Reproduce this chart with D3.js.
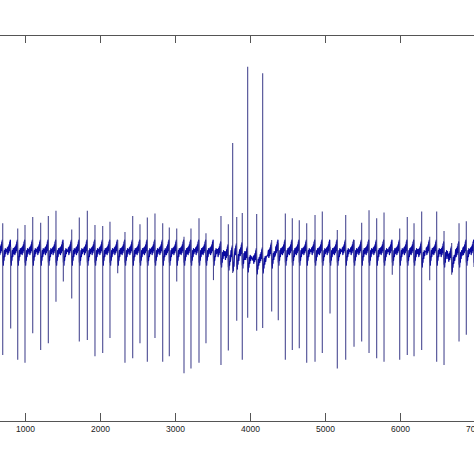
<!DOCTYPE html>
<html>
<head>
<meta charset="utf-8">
<script src="https://cdn.jsdelivr.net/npm/d3@7"></script>
<style>
  html, body { margin: 0; padding: 0; background: #fff; }
  svg { display: block; }
</style>
</head>
<body>
<div id="chart"></div>
<script>
// ---- data ----
// sample index of each sharp spike
const beatSample = [703, 809, 903, 1000, 1103, 1209, 1311, 1413, 1511, 1623,
  1724, 1831, 1933, 2036, 2133, 2236, 2333, 2436, 2533, 2631,
  2733, 2836, 2924, 3023, 3120, 3213, 3320, 3413, 3513, 3613,
  3711, 3769, 3823, 3897, 3969, 4089, 4169, 4289, 4377, 4471,
  4564, 4657, 4756, 4867, 4964, 5067, 5164, 5276, 5387, 5489,
  5587, 5689, 5787, 5897, 5996, 6097, 6187, 6289, 6396, 6489,
  6587, 6689, 6787, 6884, 6987];
// spike top values
const beatHigh = [61, 12, 50, 57, 74, 62, 76, 87, 20, 48,
  73, 87, 57, 55, 64, 26, 43, 76, 59, 73,
  81, 61, 52, 50, 33, 50, 71, 40, 20, 76,
  59, 227, 74, 82, 385, 80, 372, 26, 20, 81,
  71, 67, 61, 78, 85, 12, 47, 78, 26, 62,
  88, 71, 83, 12, 50, 74, 61, 85, 33, 85,
  45, 20, 61, 65, 20];
// spike bottom values
const beatLow = [-212, -157, -222, -228, -167, -202, -188, -102, -60, -95,
  -184, -181, -215, -208, -177, -43, -228, -219, -188, -226,
  -177, -226, -215, -60, -250, -240, -228, -188, -57, -233,
  -203, -42, -141, -222, -135, -162, -156, -122, -140, -222,
  -202, -198, -228, -226, -208, -126, -240, -222, -195, -184,
  -208, -219, -226, -46, -222, -212, -215, -202, -57, -226,
  -233, -46, -184, -170, -30];
// baseline level near each spike
const beatShift = [0, 0, 0, 0, 0, 0, 0, 0, 0, 0,
  0, 0, 0, 0, 0, 0, 0, 0, 0, 0,
  0, 0, 0, 0, 0, 0, 0, 0, 0, -4,
  -10, -12, -8, -6, -14, -18, -16, -6, 0, 0,
  0, 0, 0, 0, 0, 0, 0, 0, 0, 0,
  0, 0, 0, 0, 0, 0, 0, -4, 0, 0,
  -4, -14, -4, 0, 0];
// small wave around each spike: sample offset and value
const waveOffset = [-50, -44, -38, -33, -27, -22, -17, -12, -8, -5, -2, 2, 5, 8, 12, 17, 22, 28, 34, 40, 46];
const waveValue  = [2, 10, -4, 12, 0, 16, 4, 22, 8, 26, 4, -20, -10, -26, -8, -16, 4, -8, 8, -2, 6];
const xTicks = [1000, 2000, 3000, 4000, 5000, 6000, 7000, 8000];

// ---- layout ----
const W = 474, H = 474;
const svg = d3.select("#chart").append("svg")
  .attr("width", W).attr("height", H)
  .style("overflow", "hidden");

const x = d3.scaleLinear().domain([0, 8000]).range([-50, 550]);
const y = d3.scaleLinear().domain([-350, 450]).range([421.5, 35.5]);

// build baseline points
const pts = [];
beatSample.forEach((s, i) => {
  const prevGap = i > 0 ? s - beatSample[i - 1] : 200;
  const nextGap = i < beatSample.length - 1 ? beatSample[i + 1] - s : 200;
  waveOffset.forEach((o, j) => {
    if (o < 0 && -o >= prevGap / 2) return;
    if (o > 0 && o >= nextGap / 2) return;
    pts.push([s + o, waveValue[j] + beatShift[i]]);
  });
});
pts.sort((a, b) => a[0] - b[0]);

const line = d3.line().x(d => x(d[0])).y(d => y(d[1]));

const plot = svg.append("g");
plot.append("path")
  .datum(pts)
  .attr("d", line)
  .attr("fill", "none")
  .attr("stroke", "#0a0aa0")
  .attr("stroke-width", 1.3)
  .attr("stroke-linejoin", "round");

plot.selectAll("line.spike")
  .data(beatSample.map((s, i) => ({ s, hi: beatHigh[i], lo: beatLow[i] })))
  .join("line")
  .attr("class", "spike")
  .attr("x1", d => x(d.s)).attr("x2", d => x(d.s))
  .attr("y1", d => y(d.hi)).attr("y2", d => y(d.lo))
  .attr("stroke", "#4a4a92")
  .attr("stroke-width", 1.1);

// ---- axes ----
const fmt = d3.format("d");
const topAxis = d3.axisBottom(x).tickValues(xTicks).tickSizeInner(8).tickSizeOuter(0).tickFormat("");
const botAxis = d3.axisBottom(x).tickValues(xTicks).tickSizeInner(-8).tickSizeOuter(0).tickPadding(5).tickFormat(fmt);

const gt = svg.append("g").attr("transform", "translate(0,35)").call(topAxis);
const gb = svg.append("g").attr("transform", "translate(0,421)").call(botAxis);
[gt, gb].forEach(g => {
  g.select(".domain").attr("stroke", "#555").attr("stroke-width", 1);
  g.selectAll(".tick line").attr("stroke", "#555").attr("stroke-width", 1);
});
gb.selectAll(".tick text")
  .attr("fill", "#222")
  .style("font-family", "'Liberation Sans Narrow', 'Liberation Sans', Arial, sans-serif")
  .style("font-size", "8.5px");
</script>
</body>
</html>
